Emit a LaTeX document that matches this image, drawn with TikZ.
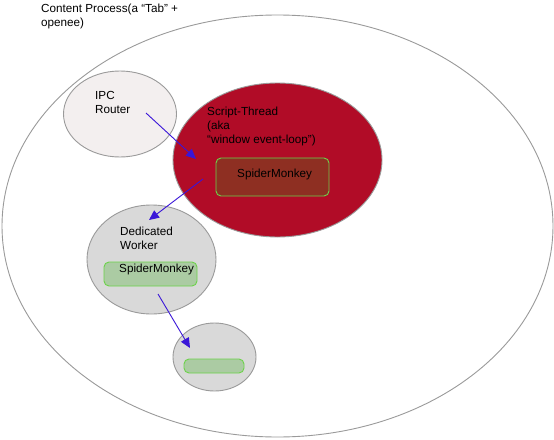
\documentclass[tikz,border=0pt]{standalone}
\usepackage{fontspec}
\setmainfont{Liberation Sans}
\usetikzlibrary{shapes.geometric,arrows.meta}
\definecolor{edgegray}{HTML}{9A9A9A}
\definecolor{ipcfill}{HTML}{F3EFEF}
\definecolor{scriptred}{HTML}{B10C27}
\definecolor{smbrown}{HTML}{8E2F22}
\definecolor{smgreen}{HTML}{6CD34A}
\definecolor{smlight}{HTML}{ABCBA3}
\definecolor{workergray}{HTML}{D9D9D9}
\definecolor{arrowblue}{HTML}{3A16D8}
\tikzset{
  blob/.style={ellipse, draw=edgegray, line width=0.9pt, inner sep=0pt},
  smbox/.style={rectangle, rounded corners=5pt, draw=smgreen, line width=0.9pt, inner sep=0pt},
  lbl/.style={anchor=west, align=left, inner sep=0pt, font=\fontsize{11.7}{14}\selectfont},
  flow/.style={draw=arrowblue, line width=0.9pt, -{Triangle[length=10pt,width=9pt]}}
}
\begin{document}
\begin{tikzpicture}[x=1pt,y=-1pt]
\useasboundingbox (0,0) rectangle (554,439);
% content process
\node[blob, fill=white, minimum width=551pt, minimum height=422pt] (proc) at (277.5,226) {};
\node[lbl] (proclbl) at (41,16) {Content Process(a “Tab” +\\openee)};
% IPC router
\node[blob, fill=ipcfill, minimum width=113pt, minimum height=86pt] (ipc) at (120,114) {};
\node[lbl] (ipclbl) at (95,102) {IPC\\Router};
% script thread
\node[blob, fill=scriptred, minimum width=209pt, minimum height=154pt] (script) at (277.5,160) {};
\node[lbl] (scriptlbl) at (207,126) {Script-Thread\\(aka\\“window event-loop”)};
\node[smbox, fill=smbrown, minimum width=113pt, minimum height=38pt] (sm1) at (272.5,177) {};
\node[lbl] (sm1lbl) at (237,174) {SpiderMonkey};
% dedicated worker
\node[blob, fill=workergray, minimum width=129pt, minimum height=109pt] (worker) at (151.5,259.5) {};
\node[lbl] (workerlbl) at (120,238.5) {Dedicated\\Worker};
\node[smbox, fill=smlight, minimum width=93pt, minimum height=24pt] (sm2) at (150.5,274) {};
\node[lbl] (sm2lbl) at (119,269) {SpiderMonkey};
% small worker
\node[blob, fill=workergray, minimum width=83pt, minimum height=68pt] (small) at (214.5,357) {};
\node[smbox, fill=smlight, minimum width=60pt, minimum height=14pt] (sm3) at (214,366) {};
% connectors
\coordinate (a1s) at (146,113);
\coordinate (a1e) at (196,159);
\coordinate (a2s) at (203,179);
\coordinate (a2e) at (149,220);
\coordinate (a3s) at (158,294);
\coordinate (a3e) at (190,348);
\draw[flow] (a1s) -- (a1e);
\draw[flow] (a2s) -- (a2e);
\draw[flow] (a3s) -- (a3e);
\end{tikzpicture}
\end{document}
